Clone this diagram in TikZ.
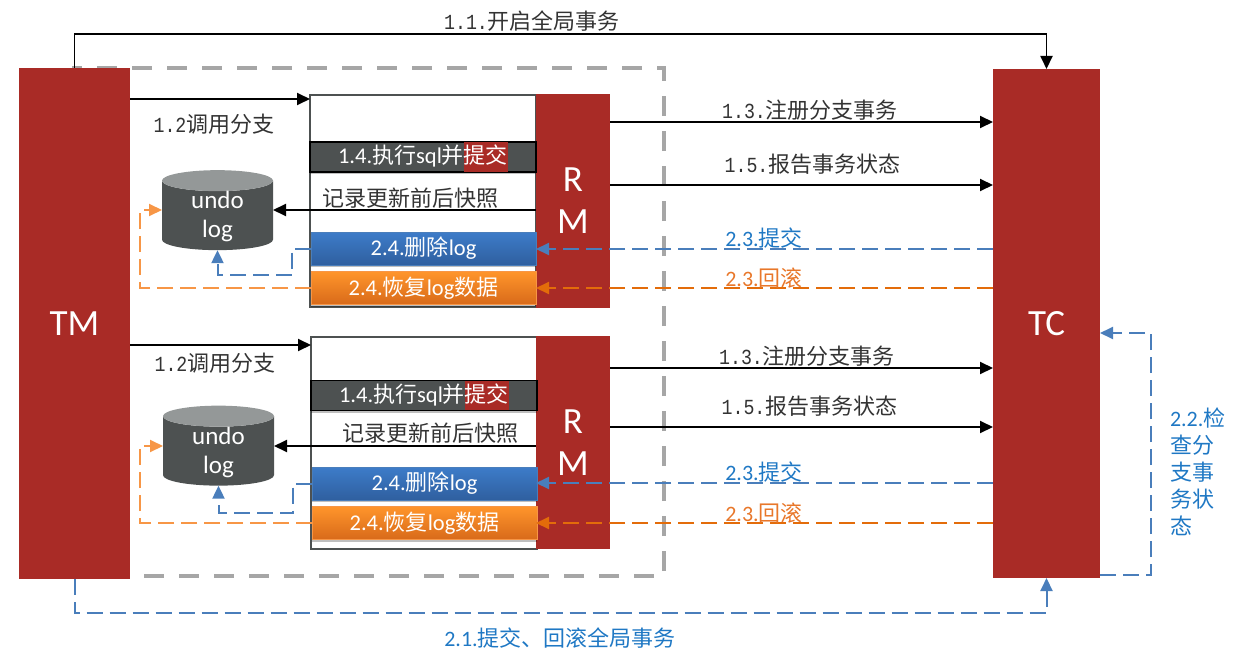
\documentclass[tikz,border=0pt]{standalone}
\usepackage{fontspec}
\usepackage{xcolor}
\setmainfont{Carlito}
\newfontfamily\cjkf{Noto Sans CJK SC}
\newfontfamily\monof[FakeStretch=0.85]{Liberation Mono}
\usetikzlibrary{arrows.meta,shapes.geometric,shadows}
\definecolor{rmred}{HTML}{A92B26}
\definecolor{slate}{HTML}{4D5151}
\definecolor{slatetop}{HTML}{949898}
\definecolor{lineblue}{HTML}{4A7EBB}
\definecolor{lineorange}{HTML}{E36C0A}
\definecolor{lightorange}{HTML}{F79646}
\definecolor{txtblue}{HTML}{1F78C4}
\definecolor{txtorange}{HTML}{E8772A}
\definecolor{txtdark}{HTML}{333333}
\definecolor{bluetop}{HTML}{3D7CC9}
\definecolor{bluebot}{HTML}{2F5F9F}
\definecolor{orangetop}{HTML}{FF952B}
\definecolor{orangebot}{HTML}{D86A1A}
\newcommand{\zh}[1]{{\cjkf\fontsize{22}{26}\selectfont #1}}
\newcommand{\dg}[1]{{\monof\fontsize{21.5}{26}\selectfont #1}}
\newcommand{\redmark}[1]{{\setlength{\fboxsep}{0pt}\colorbox{rmred}{\rule[-8pt]{0pt}{29.5pt}\zh{#1}}}}
\newcommand{\dbgap}{\phantom{\rule{50pt}{30pt}}}
\tikzset{
  x=1pt,y=-1pt,
  soft/.style={drop shadow={shadow xshift=0pt,shadow yshift=-2pt,opacity=.25,fill=black}},
  redblock/.style={rectangle,fill=rmred,text=white,inner sep=0,outer sep=0,font=\fontsize{37}{42}\selectfont,align=center},
  outerbox/.style={rectangle,draw=slate,line width=1.6pt,fill=white,inner sep=0,outer sep=0,minimum width=226,minimum height=212},
  darkbar/.style={rectangle,draw=black,line width=1.6pt,fill=slate,text=white,inner sep=0,outer sep=0,minimum width=226,minimum height=30,soft,font=\fontsize{22.5}{26}\selectfont},
  bluebar/.style={rectangle,draw=lineblue,line width=1pt,top color=bluetop,bottom color=bluebot,text=white,inner sep=0,outer sep=0,minimum width=225,minimum height=33,soft,font=\fontsize{22.5}{26}\selectfont},
  orangebar/.style={rectangle,draw=lightorange,line width=1pt,top color=orangetop,bottom color=orangebot,text=white,inner sep=0,outer sep=0,minimum width=225,minimum height=33,soft,font=\fontsize{22.5}{26}\selectfont},
  db/.style={cylinder,shape border rotate=90,aspect=.42,draw=none,cylinder uses custom fill,cylinder body fill=slate,cylinder end fill=slatetop,minimum width=111,minimum height=80,inner sep=0,outer sep=0},
  dbtext/.style={inner sep=0,outer sep=0,text=white,align=center,font=\fontsize{25}{29}\selectfont},
  lab/.style={inner sep=0,outer sep=0,text=txtdark},
  labblue/.style={inner sep=0,outer sep=0,text=txtblue,font=\fontsize{22}{26}\selectfont},
  laborange/.style={inner sep=0,outer sep=0,text=txtorange,font=\fontsize{22}{26}\selectfont},
  solidarrow/.style={draw=black,line width=1.9pt,-{Triangle[length=13pt,width=12pt]}},
  bluedash/.style={draw=lineblue,line width=2pt,dash pattern=on 16pt off 7pt,-{Triangle[length=13pt,width=12pt,fill=lineblue]}},
  orangedash/.style={draw=lineorange,line width=2pt,dash pattern=on 16pt off 7pt,-{Triangle[length=13pt,width=12pt,fill=lineorange]}},
  lightdash/.style={draw=lightorange,line width=2pt,dash pattern=on 16pt off 7pt,-{Triangle[length=13pt,width=12pt,fill=lightorange]}},
  graydash/.style={rectangle,draw=black!35,line width=4pt,dash pattern=on 20pt off 15pt,inner sep=0,outer sep=0,minimum width=590,minimum height=508},
}
\begin{document}
\begin{tikzpicture}
\useasboundingbox (0,0) rectangle (1233,658);
\node[graydash] (scope) at (369,322) {};
% main blocks
\node[redblock,minimum width=111,minimum height=511] (tm) at (74.5,323.5) {TM};
\node[redblock,minimum width=107,minimum height=509] (tc) at (1046.5,323.5) {TC};
% upper branch
\node[outerbox] (box1) at (423,201) {};
\node[redblock,minimum width=74,minimum height=214] (rm1) at (573,201) {R\\M};
\node[darkbar] (exec1) at (423,157) {1.4.\zh{执行}sql\zh{并}\redmark{提交}};
\node[bluebar] (del1) at (423.5,248.5) {2.4.\zh{删除}log};
\node[orangebar] (rec1) at (423.5,288) {2.4.\zh{恢复}log\zh{数据}};
\node[db] (undo1) at (217.5,215.5) {\dbgap};
\node[dbtext] (undotext1) at (217.5,216.5) {undo\\log};
% lower branch
\node[outerbox] (box2) at (424,443) {};
\node[redblock,minimum width=74,minimum height=213] (rm2) at (573,442.5) {R\\M};
\node[darkbar] (exec2) at (424,395.5) {1.4.\zh{执行}sql\zh{并}\redmark{提交}};
\node[bluebar] (del2) at (424.5,483.5) {2.4.\zh{删除}log};
\node[orangebar] (rec2) at (424.5,523) {2.4.\zh{恢复}log\zh{数据}};
\node[db] (undo2) at (218.5,451) {\dbgap};
\node[dbtext] (undotext2) at (218.5,452.5) {undo\\log};
% solid connectors
\draw[solidarrow] (tm.north) |- (560,34) -| (tc.north);
\draw[solidarrow] (tm.east |- 0,99) -- (box1.west |- 0,99);
\draw[solidarrow] (tm.east |- 0,345) -- (box2.west |- 0,345);
\draw[solidarrow] (rm1.east |- 0,122) -- (tc.west |- 0,122);
\draw[solidarrow] (rm1.east |- 0,185) -- (tc.west |- 0,185);
\draw[solidarrow] (rm2.east |- 0,368) -- (tc.west |- 0,368);
\draw[solidarrow] (rm2.east |- 0,427) -- (tc.west |- 0,427);
\draw[solidarrow] (rm1.west |- 0,210) -- (undo1.east |- 0,210);
\draw[solidarrow] (rm2.west |- 0,446) -- (undo2.east |- 0,446);
% dashed connectors
\draw[bluedash] (tc.west |- 0,249) -- (rm1.west |- 0,249);
\draw[orangedash] (tc.west |- 0,288) -- (rm1.west |- 0,288);
\draw[bluedash] (tc.west |- 0,483) -- (rm2.west |- 0,483);
\draw[orangedash] (tc.west |- 0,523) -- (rm2.west |- 0,523);
\draw[bluedash] (del1.west) -- (292,248.5) -- (292,275) -- (217.5,275) -- (undo1.south);
\draw[bluedash] (del2.west) -- (293,483.5) -- (293,513) -- (218.5,513) -- (undo2.south);
\draw[lightdash] (rec1.west) -- (140,288) -- (140,210) -- (undo1.west |- 0,210);
\draw[lightdash] (rec2.west) -- (140,523) -- (140,446) -- (undo2.west |- 0,446);
\draw[bluedash] (tm.south) |- (560,613) -| (tc.south);
\draw[bluedash] (tc.east |- 0,575) -- (1151,575) -- (1151,333) -- (tc.east |- 0,333);
% labels
\node[lab] (l11) at (532,21) {\dg{1.1.}\zh{开启全局事务}};
\node[lab] (l12a) at (214,124) {\dg{1.2}\zh{调用分支}};
\node[lab] (l12b) at (215,363) {\dg{1.2}\zh{调用分支}};
\node[lab] (snap1) at (410.5,198) {\zh{记录更新前后快照}};
\node[lab] (snap2) at (430,433) {\zh{记录更新前后快照}};
\node[lab] (l13a) at (810,110) {\dg{1.3.}\zh{注册分支事务}};
\node[lab] (l15a) at (812.5,164) {\dg{1.5.}\zh{报告事务状态}};
\node[lab] (l13b) at (807,356) {\dg{1.3.}\zh{注册分支事务}};
\node[lab] (l15b) at (809.5,406) {\dg{1.5.}\zh{报告事务状态}};
\node[labblue] (l23a) at (764,238) {2.3.\zh{提交}};
\node[laborange] (l23b) at (764,278) {2.3.\zh{回滚}};
\node[labblue] (l23c) at (764,472) {2.3.\zh{提交}};
\node[laborange] (l23d) at (764,513) {2.3.\zh{回滚}};
\node[labblue] (l21) at (560,638) {2.1.\zh{提交、回滚全局事务}};
\node[labblue,font=\fontsize{22}{27}\selectfont,align=left,anchor=west] (l22) at (1170,472) {2.2.\zh{检}\\\zh{查分}\\\zh{支事}\\\zh{务状}\\\zh{态}};
\end{tikzpicture}
\end{document}
